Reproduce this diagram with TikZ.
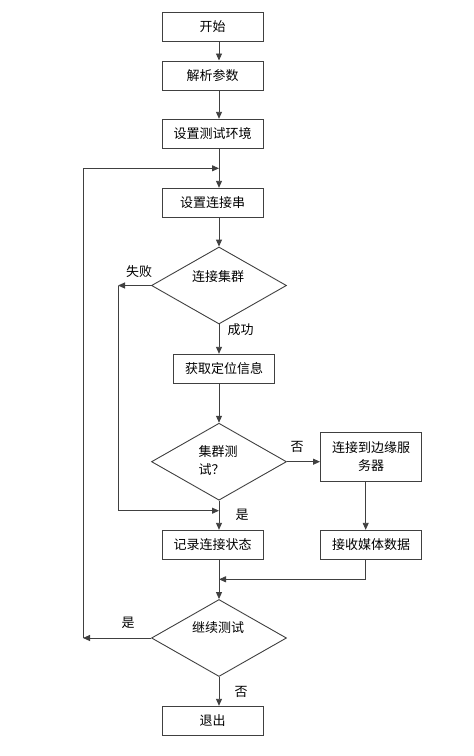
\documentclass[tikz,border=0pt]{standalone}
\usepackage{fontspec}
\setmainfont{Noto Sans CJK SC}
\usetikzlibrary{shapes.geometric,arrows.meta}

\begin{document}
\begin{tikzpicture}[x=1pt,y=-1pt,
  box/.style={draw=black!75,line width=0.9pt,minimum width=101pt,minimum height=29.5pt,inner sep=1pt},
  decision/.style={draw=black!75,line width=0.9pt,diamond,minimum width=135pt,minimum height=77pt,inner sep=0pt},
  line/.style={draw=black!75,line width=0.9pt,-{Triangle[length=7pt,width=6pt]}}]
\useasboundingbox (0,0) rectangle (474,756);
\fontsize{13}{18}\selectfont
% \draw[step=50,gray,very thin] (0,0) grid (474,756);
\coordinate (ax) at (219,0);
\coordinate (ax2) at (365.7,0);

%% boxes
\node[box] (start) at (212.5,27) {开始};
\node[box] (parse) at (212.5,75.7) {解析参数};
\node[box] (env) at (212.5,134) {设置测试环境};
\node[box] (conn) at (212.5,203) {设置连接串};
\node[box] (locate) at (224,369) {获取定位信息};
\node[box,minimum height=49pt,align=center] (edge) at (371,457) {连接到边缘服\\务器};
\node[box] (record) at (212.5,545) {记录连接状态};
\node[box] (media) at (371,545) {接收媒体数据};
\node[box] (exit) at (212.5,721) {退出};

%% decisions
\node[decision] (d1) at (219,285.5) {};
\node (d1t) at (218,277) {连接集群};
\node[decision] (d2) at (219,461.7) {};
\node[align=left] (d2t) at (218,461) {集群测\\试？};
\node[decision] (d3) at (219,638) {};
\node (d3t) at (218,628) {继续测试};

%% corners
\coordinate (join1) at (219,168.3);
\coordinate (join2) at (219,510.7);
\coordinate (join3) at (219,579.3);
\coordinate (failc) at (118,285.5);
\coordinate (loopc) at (83,638);

%% main flow
\draw[line] (start.south -| ax) -- (parse.north -| ax);
\draw[line] (parse.south -| ax) -- (env.north -| ax);
\draw[line] (env.south -| ax) -- (conn.north -| ax);
\draw[line] (conn.south -| ax) -- (d1.north);
\draw[line] (d1.south) -- (locate.north -| ax);
\draw[line] (locate.south -| ax) -- (d2.north);
\draw[line] (d2.south) -- (record.north -| ax);
\draw[line] (record.south -| ax) -- (d3.north);
\draw[line] (d3.south) -- (exit.north -| ax);

%% branches
\draw[line] (d1.west) -- (failc);
\draw[line] (failc) |- (join2);
\draw[line] (d2.east) -- (d2.east -| edge.west);
\draw[line] (edge.south -| ax2) -- (media.north -| ax2);
\draw[line] (media.south -| ax2) |- (join3);
\draw[line] (d3.west) -- (loopc);
\draw[line] (loopc) |- (join1);

%% labels
\node (lfail) at (139,272) {失败};
\node (lok) at (240.5,330) {成功};
\node (lno1) at (297,447) {否};
\node (lyes1) at (242,515) {是};
\node (lyes2) at (128,623) {是};
\node (lno2) at (241,691.7) {否};
\end{tikzpicture}
\end{document}
